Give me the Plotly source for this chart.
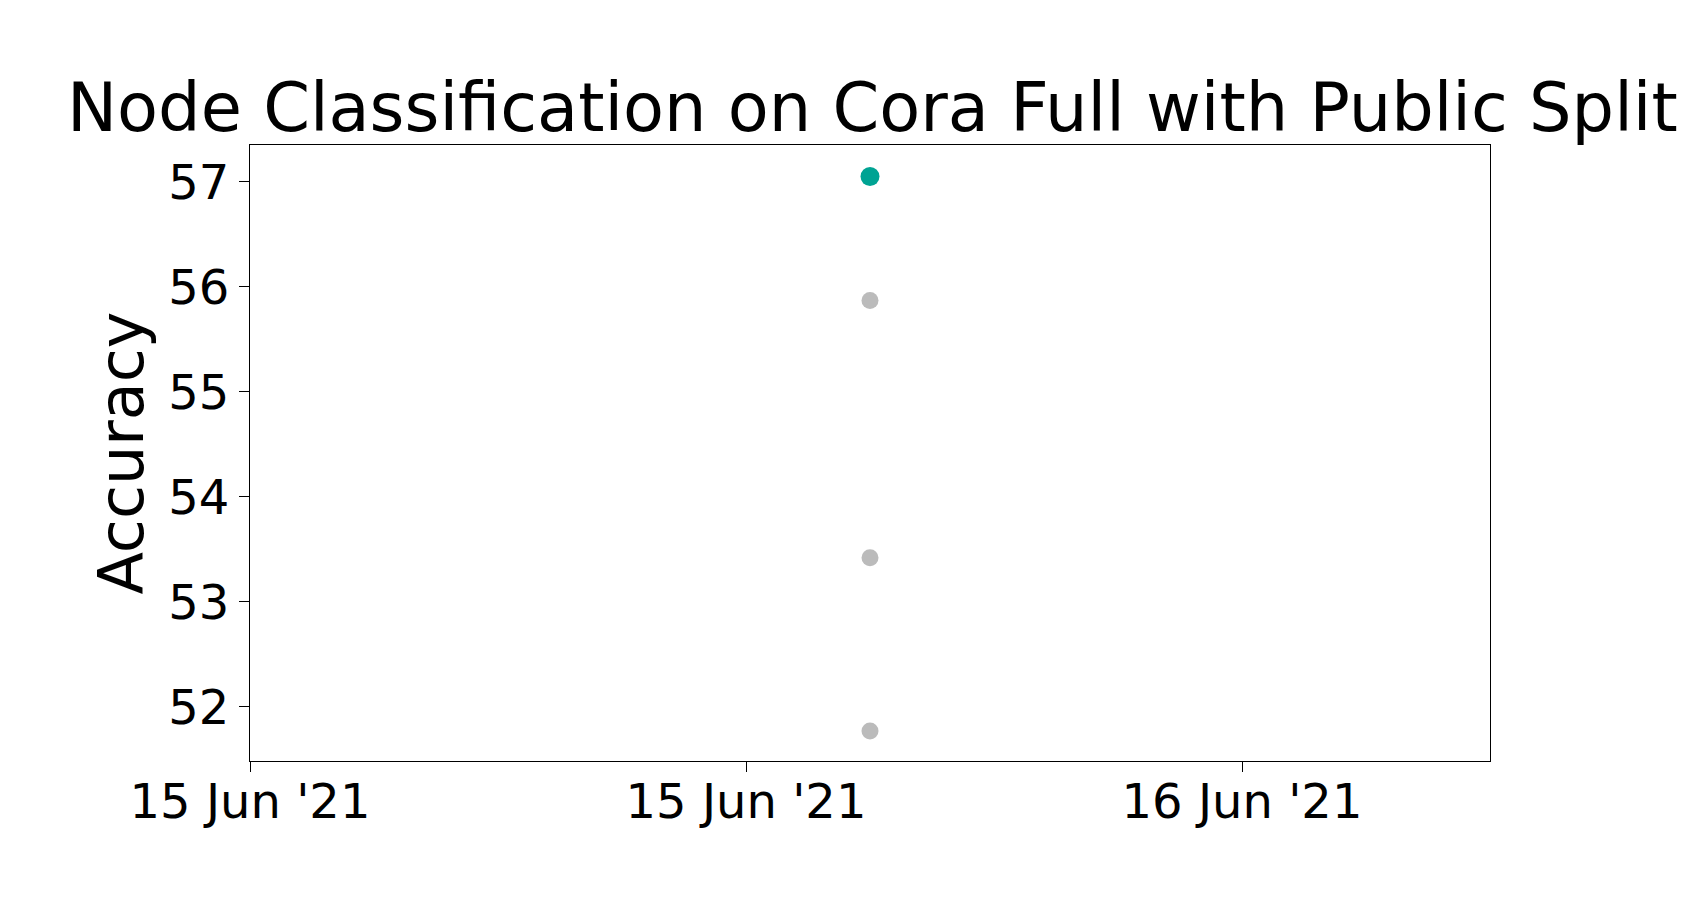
import plotly.graph_objects as go

# Data
best_date = ["2021-06-15 15:00"]
best_acc = [57.05]
other_dates = ["2021-06-15 15:00", "2021-06-15 15:00", "2021-06-15 15:00"]
other_acc = [55.87, 53.42, 51.77]

x_tickvals = ["2021-06-15 00:00", "2021-06-15 12:00", "2021-06-16 00:00"]
x_ticktext = ["15 Jun '21", "15 Jun '21", "16 Jun '21"]
y_tickvals = [52, 53, 54, 55, 56, 57]

FONT = "DejaVu Sans"

fig = go.Figure()
fig.add_trace(go.Scatter(x=other_dates, y=other_acc, mode="markers",
                         marker=dict(color="#bbbbbb", size=17, line=dict(width=0)),
                         showlegend=False, hoverinfo="x+y"))
fig.add_trace(go.Scatter(x=best_date, y=best_acc, mode="markers",
                         marker=dict(color="#00a393", size=19, line=dict(width=0)),
                         showlegend=False, hoverinfo="x+y"))

axis_common = dict(showline=True, linecolor="black", linewidth=1.3, mirror=True,
                   ticks="outside", ticklen=10, tickwidth=1.3, tickcolor="black",
                   showgrid=False, zeroline=False,
                   tickfont=dict(family=FONT, size=48, color="black"))

fig.update_layout(
    width=1700, height=900,
    paper_bgcolor="white", plot_bgcolor="white",
    margin=dict(l=242, r=218, t=137, b=147),
    font=dict(family=FONT, color="black"),
    title=dict(text="Node Classification on Cora Full with Public Split",
               font=dict(family=FONT, size=67, color="black"),
               x=59 / 1700, xref="container", xanchor="left",
               y=1 - 100 / 900, yref="container", yanchor="middle"),
    xaxis=dict(type="date", range=["2021-06-15 00:00", "2021-06-16 06:00"],
               tickmode="array", tickvals=x_tickvals, ticktext=x_ticktext,
               ticklabelstandoff=-12,
               **axis_common),
    yaxis=dict(range=[51.484, 57.35], tickmode="array", tickvals=y_tickvals,
               title=dict(text="Accuracy", font=dict(family=FONT, size=62, color="black"),
                          standoff=4),
               **axis_common),
)

fig.write_html("out.html")
